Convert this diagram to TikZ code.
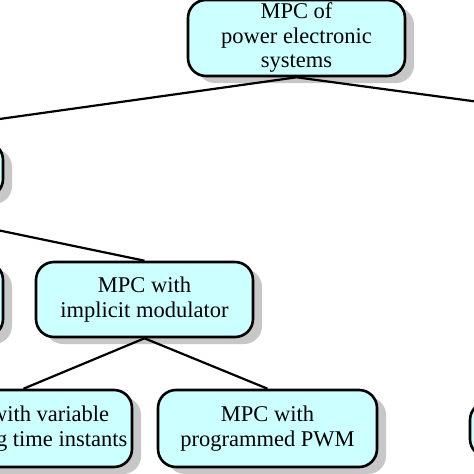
\documentclass[tikz,border=0pt]{standalone}
\usepackage{fontspec}
\setmainfont{Liberation Serif}
\usetikzlibrary{positioning,shadows}
\definecolor{boxcyan}{RGB}{204,255,255}

\begin{document}
\begin{tikzpicture}[
  x=1pt, y=-1pt,
  font=\fontsize{22.5}{24.5}\selectfont,
  class/.style={draw, line width=2.6pt, rounded corners=18pt, fill=boxcyan, align=center, inner sep=2pt,
    minimum width=217pt, minimum height=76pt,
    copy shadow={shadow xshift=9pt, shadow yshift=-7pt, fill=black!22, draw=none}},
  link/.style={line width=2.2pt}
]
\useasboundingbox (0,0) rectangle (474,474);
\fill[white] (0,0) rectangle (474,474);
\clip (0,0) rectangle (474,474);
\node[class] (root) at (296.5,38) {MPC of\\power electronic\\systems};
\node[class, minimum width=316pt, minimum height=55pt] (midL) at (-155,169.5) {};
\node[class, minimum height=75pt] (lowL) at (-105.5,299.5) {};
\node[class, minimum height=75pt] (implicit) at (144.5,299.5) {MPC with\\implicit modulator};
\node[class, minimum height=77pt] (variable) at (23.5,428.5) {MPC with variable\\switching time instants};
\node[class, minimum width=219pt, minimum height=77pt] (pwm) at (267.5,428.5) {MPC with\\programmed PWM};
\node[class, minimum height=55pt] (farR) at (578.5,429.5) {};
\coordinate (rootR) at (720,134.5);
% tree links
\draw[link] (root.south) -- (midL.north);
\draw[link] (root.south) -- (rootR);
\draw[link] (midL.south) -- (implicit.north);
\draw[link] (implicit.south) -- (variable.north);
\draw[link] (implicit.south) -- (pwm.north);
\end{tikzpicture}
\end{document}
